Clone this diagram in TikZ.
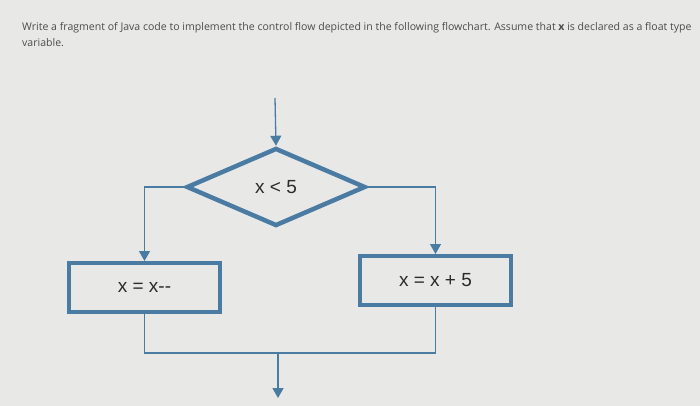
\documentclass[tikz,border=0pt]{standalone}
\usepackage{fontspec}
\setmainfont{Liberation Sans}
\newfontfamily\notefont{Open Sans}
\usetikzlibrary{shapes.geometric,arrows.meta}
\definecolor{flowblue}{HTML}{4A7BA3}
\definecolor{paper}{HTML}{E8E8E6}
\definecolor{ink}{HTML}{2B2B2B}
\begin{document}
\begin{tikzpicture}[x=1pt,y=-1pt,
  every node/.style = {text=ink, font=\fontsize{19}{22}\selectfont},
  box/.style = {draw=flowblue, line width=4pt, inner sep=0pt,
    minimum width=151pt, minimum height=49pt},
  test/.style = {diamond, draw=flowblue, line width=4.5pt, inner sep=0pt,
    aspect=2.3, minimum width=179pt, minimum height=78pt},
  flow/.style = {draw=flowblue, line width=1.3pt},
  link/.style = {flow, -{Triangle[width=11pt,length=10pt]}}]
  \fill[paper] (0,0) rectangle (700,406);
  \useasboundingbox (0,0) rectangle (700,406);
  % question text
  \node[anchor=north west, align=left, inner sep=0pt, text=ink!85,
    font=\notefont\fontsize{10.55}{16}\selectfont] (question) at (22,22)
    {Write a fragment of Java code to implement the control flow depicted in the following flowchart. Assume that \textbf{x} is declared as a float type\\
     variable.};
  % flowchart
  \node[test] (cond) at (276,187) {x < 5};
  \node[box] (dec) at (144.5,287.5) {x = x-{}-};
  \node[box] (add) at (435.5,280.5) {x = x + 5};
  \coordinate (entry) at (275,98);
  \coordinate (merge) at (278,353);
  \coordinate (exit) at (278,398);
  \draw[link] (entry) -- (cond.north);
  \draw[link] (cond.west) -| (dec.north);
  \draw[link] (cond.east) -| (add.north);
  \draw[flow] (dec.south) |- (merge) -| (add.south);
  \draw[link] (merge) -- (exit);
\end{tikzpicture}
\end{document}
